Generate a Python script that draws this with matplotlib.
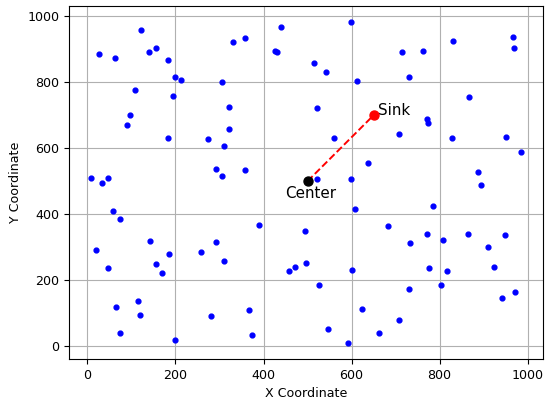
import matplotlib
matplotlib.use("Agg")
import matplotlib.pyplot as plt

# sensor node positions
node_x = [121, 26, 63, 139, 156, 182, 200, 213, 305, 109,
          195, 97, 89, 182, 273, 310, 322, 322, 292, 305,
          7, 46, 440, 331, 359, 427, 431, 599, 514, 542,
          612, 522, 561, 638, 357, 598, 521, 715, 762, 831,
          967, 970, 730, 866, 771, 774, 708, 829, 951, 986,
          888, 34, 58, 74, 141, 20, 46, 185, 156, 169,
          259, 292, 310, 115, 65, 119, 281, 74, 198, 607,
          390, 683, 494, 497, 472, 457, 601, 525, 366, 623,
          374, 546, 662, 592, 895, 786, 732, 771, 808, 864,
          949, 910, 775, 817, 923, 730, 803, 941, 971, 708]
node_y = [960, 885, 873, 893, 904, 867, 815, 806, 801, 778,
          760, 702, 670, 632, 629, 607, 725, 658, 536, 516,
          511, 511, 969, 922, 934, 894, 891, 983, 858, 832,
          804, 722, 632, 555, 534, 508, 506, 893, 896, 924,
          939, 904, 815, 754, 688, 676, 643, 632, 635, 588,
          527, 496, 409, 385, 319, 290, 237, 279, 249, 220,
          284, 316, 258, 136, 119, 93, 90, 40, 17, 417,
          366, 363, 348, 252, 240, 226, 229, 185, 110, 113,
          32, 52, 38, 9, 487, 426, 313, 339, 322, 339,
          336, 301, 237, 226, 240, 174, 185, 145, 163, 78]

center = (500, 500)
sink = (650, 700)

fig = plt.figure(figsize=(5.5, 4.04), dpi=100)
ax = fig.add_axes([69 / 550, 1 - 359 / 404, 474 / 550, 353 / 404])

ax.scatter(node_x, node_y, s=12, color="blue", zorder=3)
ax.plot([center[0], sink[0]], [center[1], sink[1]], "r--", linewidth=1.4, zorder=3)
ax.scatter([center[0]], [center[1]], s=42, color="black", zorder=4)
ax.scatter([sink[0]], [sink[1]], s=42, color="red", zorder=4)

ax.text(center[0] - 50, center[1] - 50, "Center", fontsize=10.9)
ax.text(sink[0] + 10, sink[1], "Sink", fontsize=10.9)

ax.set_xlabel("X Coordinate", fontsize=9.1)
ax.set_ylabel("Y Coordinate", fontsize=9.1)
ax.tick_params(labelsize=9.1)
ax.grid(True)
ax.set_axisbelow(True)

fig.savefig("out.png", dpi=100)
